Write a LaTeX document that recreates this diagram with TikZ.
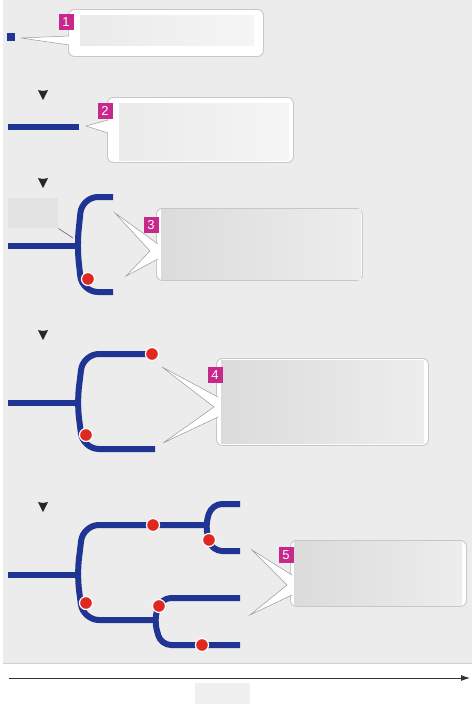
\documentclass[tikz,border=0pt]{standalone}
\usepackage{fontspec}
\setmainfont{Liberation Sans}
\usepackage{xcolor}
\usetikzlibrary{arrows.meta,positioning,shapes}

\definecolor{dnablue}{RGB}{32,52,148}
\definecolor{forkred}{RGB}{222,40,32}
\definecolor{tagmag}{RGB}{198,40,140}
\definecolor{panelgray}{RGB}{236,236,236}

\tikzset{
  strand/.style={draw=dnablue, line width=6pt},
  fork/.style={strand, rounded corners=16pt},
  subfork/.style={strand, rounded corners=10pt},
  origin/.style={circle, fill=forkred, draw=white, line width=1.2pt, minimum size=13pt, inner sep=0pt},
  tag/.style={fill=tagmag, text=white, minimum width=15pt, minimum height=16pt, inner sep=0pt, font=\fontsize{13}{13}\selectfont},
  callbox/.style={draw=black!22, fill=white, rounded corners=6pt, line width=0.9pt, anchor=north west, inner sep=0pt},
  blur/.style={left color=black!14, right color=black!7},
  faint/.style={left color=black!8, right color=black!4},
  spike/.style={draw=black!40, line width=0.5pt},
}

\begin{document}
\begin{tikzpicture}[x=1pt,y=-1pt]
      \useasboundingbox (0,0) rectangle (474,704);
      \fill[panelgray] (3,0) rectangle (472,663);
      \draw[black!18, line width=1pt] (3,663) -- (472,663);

      % step arrows
      \foreach \y in {95,183,335,507}
        \fill[black!85] (38,\y-5) -- (43,\y+5) -- (48,\y-5) -- (43,\y-4) -- cycle;

      % 1
      \node[fill=dnablue, minimum size=8pt, inner sep=0pt] (seed) at (11,37) {};
      \node[callbox, minimum width=195pt, minimum height=47pt] (box1) at (68,9) {};
      \fill[faint] (80,15) rectangle (254,45);
      \coordinate (p1) at (21,38);
      \fill[white] (69,36) -- (p1) -- (69,45) -- cycle;
      \draw[spike] (69,36) -- (p1) -- (69,45);
      \node[tag] (tag1) at (66,22) {1};

      % 2
      \draw[strand] (8,127) -- (79,127);
      \node[callbox, minimum width=186pt, minimum height=65pt] (box2) at (107,97) {};
      \fill[faint] (119,103) rectangle (289,160);
      \coordinate (p2) at (86,126);
      \fill[white] (108,120) -- (p2) -- (108,133) -- cycle;
      \draw[spike] (108,120) -- (p2) -- (108,133);
      \node[tag] (tag2) at (105,111) {2};

      % 3
      \draw[strand] (8,246) -- (78,246);
      \draw[fork] (113,197) -- (82,197) -- (77,246) -- (82,292) -- (113,292);
      \node[origin] (o31) at (88,279) {};
      \node[fill=black!11, minimum width=50pt, minimum height=30pt, inner sep=0pt, anchor=north west] (lbl3) at (8,198) {};
      \coordinate (l3) at (73,238);
      \draw[black!55, line width=0.7pt] (lbl3.south east) -- (l3);
      \node[callbox, minimum width=206pt, minimum height=72pt] (box3) at (156,208) {};
      \fill[blur] (161,209) rectangle (361,279);
      \coordinate (p3a) at (115,213);
      \coordinate (p3b) at (126,276);
      \fill[white] (158,244) -- (p3a) -- (150,251) -- (p3b) -- (158,259) -- cycle;
      \draw[spike] (158,244) -- (p3a) -- (150,251) -- (p3b) -- (158,259);
      \node[tag] (tag3) at (151,225) {3};

      % 4
      \draw[strand] (8,403) -- (78,403);
      \draw[fork] (152,354) -- (83,354) -- (77,403) -- (83,449) -- (155,449);
      \node[origin] (o41) at (152,354) {};
      \node[origin] (o42) at (86,435) {};
      \node[callbox, minimum width=212pt, minimum height=87pt] (box4) at (216,358) {};
      \fill[blur] (221,360) rectangle (424,443);
      \coordinate (p4a) at (162,367);
      \coordinate (p4b) at (163,443);
      \fill[white] (218,397) -- (p4a) -- (214,407) -- (p4b) -- (218,417) -- cycle;
      \draw[spike] (218,397) -- (p4a) -- (214,407) -- (p4b) -- (218,417);
      \node[tag] (tag4) at (215,375) {4};

      % 5
      \draw[strand] (8,575) -- (78,575);
      \draw[fork] (206,525) -- (83,525) -- (77,575) -- (83,620) -- (156,620);
      \draw[subfork] (240,504) -- (212,504) -- (205,526) -- (212,551) -- (240,551);
      \draw[subfork] (240,598) -- (161,598) -- (154,620) -- (161,645) -- (240,645);
      \node[origin] (o51) at (153,525) {};
      \node[origin] (o52) at (209,540) {};
      \node[origin] (o53) at (86,603) {};
      \node[origin] (o54) at (159,606) {};
      \node[origin] (o55) at (202,645) {};
      \node[callbox, minimum width=176pt, minimum height=66pt] (box5) at (290,540) {};
      \fill[blur] (294,541) rectangle (462,605);
      \coordinate (p5a) at (252,550);
      \coordinate (p5b) at (250,615);
      \fill[white] (292,575) -- (p5a) -- (287,585) -- (p5b) -- (292,595) -- cycle;
      \draw[spike] (292,575) -- (p5a) -- (287,585) -- (p5b) -- (292,595);
      \node[tag] (tag5) at (286,555) {5};

      % time
      \coordinate (t0) at (9,678);
      \coordinate (t1) at (470,678);
      \draw[black!80, line width=0.9pt, -{Latex[length=9pt,width=6pt]}] (t0) -- (t1);
      \node[fill=black!6, minimum width=55pt, minimum height=21pt, inner sep=0pt, anchor=north west] (tlbl) at (195,683) {};
    \end{tikzpicture}
\end{document}
